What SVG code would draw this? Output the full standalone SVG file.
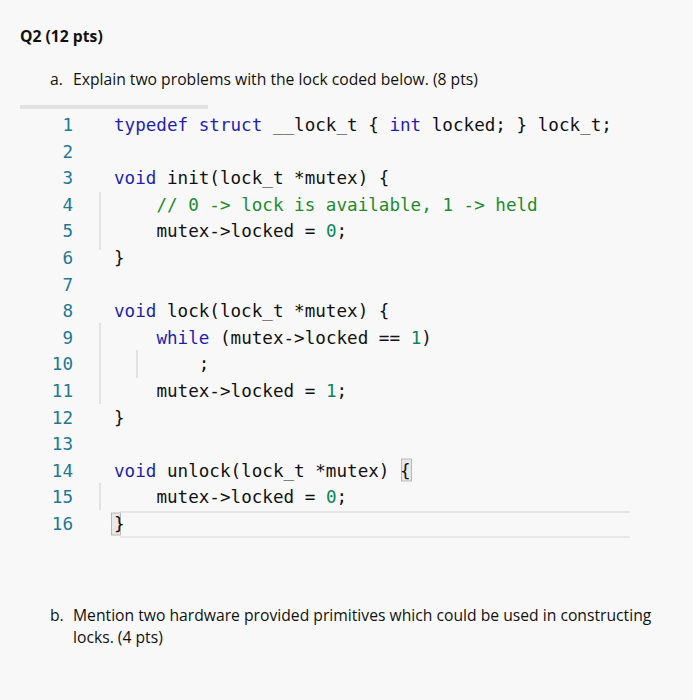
<svg xmlns="http://www.w3.org/2000/svg" width="693" height="700" viewBox="0 0 693 700">
<style>
.t{font-family:"Open Sans","Liberation Sans",sans-serif;font-size:15.7px;fill:#111}
.c{font-family:"DejaVu Sans Mono",monospace;font-size:17.6px;fill:#111;white-space:pre}
.n{font-family:"DejaVu Sans Mono",monospace;font-size:17.6px;fill:#237893;text-anchor:end}
.k{fill:#1f1fb0}.num{fill:#098658}.cm{fill:#1e8a2e}
.g{stroke:#d4d4d4;stroke-width:1.2}
</style>
<rect width="693" height="700" fill="#f8f8f8"/>
<text x="20" y="42" class="t" style="font-weight:bold">Q2 (12 pts)</text>
<text x="50" y="85" class="t">a.<tspan x="73">Explain two problems with the lock coded below. (8 pts)</tspan></text>
<rect x="20" y="105" width="188" height="4" fill="#e2e2e2"/>
<g class="n">
<text x="73" y="131">1</text><text x="73" y="157.6">2</text><text x="73" y="184.2">3</text><text x="73" y="210.8">4</text><text x="73" y="237.4">5</text><text x="73" y="264">6</text><text x="73" y="290.6">7</text><text x="73" y="317.2">8</text><text x="73" y="343.8">9</text><text x="73" y="370.4">10</text><text x="73" y="397">11</text><text x="73" y="423.6">12</text><text x="73" y="450.2">13</text><text x="73" y="476.8">14</text><text x="73" y="503.4">15</text><text x="73" y="530">16</text>
</g>
<line x1="100" y1="192" x2="100" y2="250" class="g"/>
<line x1="100" y1="323" x2="100" y2="404" class="g"/>
<line x1="137" y1="350" x2="137" y2="378" class="g"/>
<line x1="100" y1="483" x2="100" y2="510" class="g"/>
<line x1="120" y1="512" x2="630" y2="512" stroke="#e2e2e2" stroke-width="1.5"/>
<line x1="120" y1="537" x2="630" y2="537" stroke="#e2e2e2" stroke-width="1.5"/>
<rect x="401.5" y="459" width="10" height="22" fill="#e8e8e8" stroke="#aaa" stroke-width="0.8"/>
<rect x="111.5" y="513" width="9" height="22" fill="#e8e8e8" stroke="#aaa" stroke-width="0.8"/>
<g class="c">
<text x="114" y="131"><tspan class="k">typedef struct</tspan> __lock_t { <tspan class="k">int</tspan> locked; } lock_t;</text>
<text x="114" y="184.2"><tspan class="k">void</tspan> init(lock_t *mutex) {</text>
<text x="156.4" y="210.8" class="cm">// 0 -&gt; lock is available, 1 -&gt; held</text>
<text x="156.4" y="237.4">mutex-&gt;locked = <tspan class="num">0</tspan>;</text>
<text x="114" y="264">}</text>
<text x="114" y="317.2"><tspan class="k">void</tspan> lock(lock_t *mutex) {</text>
<text x="156.4" y="343.8"><tspan class="k">while</tspan> (mutex-&gt;locked == <tspan class="num">1</tspan>)</text>
<text x="198.8" y="370.4">;</text>
<text x="156.4" y="397">mutex-&gt;locked = <tspan class="num">1</tspan>;</text>
<text x="114" y="423.6">}</text>
<text x="114" y="476.8"><tspan class="k">void</tspan> unlock(lock_t *mutex) {</text>
<text x="156.4" y="503.4">mutex-&gt;locked = <tspan class="num">0</tspan>;</text>
<text x="114" y="530">}</text>
</g>
<text x="50" y="621" class="t">b.<tspan x="73">Mention two hardware provided primitives which could be used in constructing</tspan></text>
<text x="73" y="643" class="t">locks. (4 pts)</text>
</svg>
